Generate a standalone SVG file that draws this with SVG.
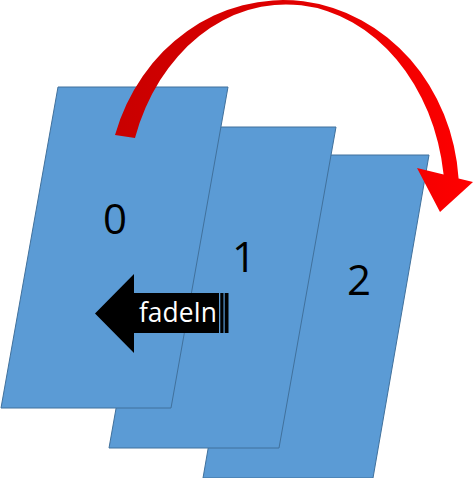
<svg xmlns="http://www.w3.org/2000/svg" width="474" height="478" viewBox="0 0 474 478">
<style>
.page{fill:#5B9BD5;stroke:#41719C;stroke-width:1}
.num{font-family:"Open Sans","Noto Sans","DejaVu Sans",sans-serif;font-size:42px;fill:#000;text-anchor:middle}
.lbl{font-family:"Open Sans","Noto Sans","DejaVu Sans",sans-serif;font-size:27px;fill:#fff}
</style>
<defs>
<linearGradient id="redGrad" gradientUnits="userSpaceOnUse" x1="115" y1="0" x2="473" y2="0">
<stop offset="0" stop-color="#C80000"/>
<stop offset="0.5" stop-color="#E00000"/>
<stop offset="1" stop-color="#FF0000"/>
</linearGradient>
</defs>
<g id="page2">
<polygon class="page" points="259,155 429,155 373,478 203,478"/>
<text class="num" x="359" y="295">2</text>
</g>
<g id="page1">
<polygon class="page" points="166,127 336,127 279,448 109,448"/>
<text class="num" x="244" y="272">1</text>
</g>
<g id="page0">
<polygon class="page" points="58,87 228,87 171,408 1,408"/>
<text class="num" x="115" y="234">0</text>
</g>
<g id="connectors">
<path fill="url(#redGrad)" d="M115,135 A176,192 0 0 1 458.6,178.4 L473,182 L440,212 L417,168 L443.6,174.6 A159,195 0 0 0 135,138 Z"/>
</g>
<g id="fadeIn-arrow">
<path fill="#000" d="M95,313.5 L134,274 L134,293 L219,293 L219,333 L134,333 L134,353 Z"/>
<rect x="220.3" y="293" width="3.2" height="40" fill="#000"/>
<rect x="224.7" y="293" width="3.8" height="40" fill="#000"/>
<text class="lbl" x="139" y="322" textLength="78" lengthAdjust="spacingAndGlyphs">fadeIn</text>
</g>
</svg>
